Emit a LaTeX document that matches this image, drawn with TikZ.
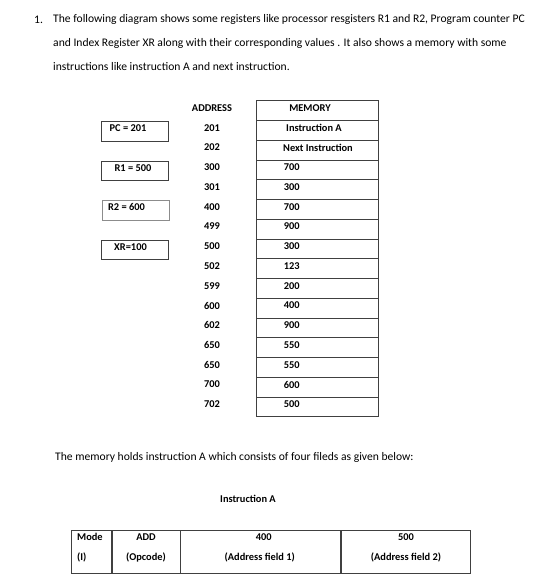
\documentclass[tikz,border=0pt]{standalone}
\usepackage{fontspec}
\setmainfont{Carlito}
\usepackage{tikz}
\usetikzlibrary{positioning,calc}

\begin{document}
\begin{tikzpicture}[x=1pt,y=-1pt,
  txt/.style={font=\fontsize{11.6}{13}\selectfont, inner sep=0pt},
  bld/.style={font=\fontsize{10.4}{12}\selectfont\bfseries, inner sep=0pt},
  reg/.style={draw=black!75, line width=0.7pt, minimum width=67pt, minimum height=19.5pt, inner sep=0pt},
  cell/.style={draw=black!75, line width=0.7pt, minimum width=122pt, minimum height=19.75pt, inner sep=0pt},
  field/.style={draw=black!75, line width=0.7pt, minimum height=43pt, inner sep=0pt}]
\useasboundingbox (0,0) rectangle (558,586);
\node[txt, anchor=west] (num) at (34,19.5) {1.};
\node[txt, anchor=west] (line1) at (53,19.5) {The following diagram shows some registers like processor resgisters R1 and R2, Program counter PC};
\node[txt, anchor=west] (line2) at (53,43) {and Index Register XR along with their corresponding values . It also shows a memory with some};
\node[txt, anchor=west] (line3) at (53,66.5) {instructions like instruction A and next instruction.};

\foreach \i in {0,...,15}
  \node[cell] (m\i) at (317,{110.5+19.75*\i}) {};
\node[bld] (mhead) at ($(m0)+(-7,-2.5)$) {MEMORY};
\node[bld] (minsa) at ($(m1)+(-3,-2.5)$) {Instruction A};
\node[bld] (mnext) at ($(m2)+(1,-2.5)$) {Next Instruction};
\foreach \v [count=\i from 3] in {700,300,700,900,300,123,200,400,900,550,550,600,500}
  \node[bld, anchor=west] (v\i) at ($(m\i.west)+(28,-2.5)$) {\v};

\node[bld] (ahead) at ($(m0)+(-105,-2.5)$) {ADDRESS};
\foreach \a [count=\i from 1] in {201,202,300,301,400,499,500,502,599,600,602,650,650,700,702}
  \node[bld] (a\i) at ($(m\i)+(-105,-2.5)$) {\a};

\node[reg] (pc) at ($(m1)+(-182,1)$) {};
\node[reg] (r1) at ($(m3)+(-182,1)$) {};
\node[reg, draw=black!45] (r2) at ($(m5)+(-181,1)$) {};
\node[reg] (xr) at ($(m7)+(-182,1)$) {};
\node[bld] (pct) at ($(pc)+(-7,-3)$) {PC = 201};
\node[bld] (r1t) at ($(r1)+(-2,-3)$) {R1 = 500};
\node[bld] (r2t) at ($(r2)+(-9.5,-3)$) {R2 = 600};
\node[bld] (xrt) at ($(xr)+(-4.5,-3)$) {XR=100};

\node[txt, anchor=west] (hold) at (55,457) {The memory holds instruction A which consists of four fileds as given below:};
\node[bld] (itit) at (248,499) {Instruction A};

\node[field, minimum width=40pt, anchor=west] (f1) at (71,551.5) {};
\node[field, minimum width=68pt, right=0pt of f1] (f2) {};
\node[field, minimum width=160pt, right=0pt of f2] (f3) {};
\node[field, minimum width=129pt, right=0pt of f3] (f4) {};
\node[bld, anchor=west] (f1a) at ($(f1.north west)+(6,7)$) {Mode};
\node[bld, anchor=west] (f1b) at ($(f1.north west)+(6,28)$) {(I)};
\node[bld] (f2a) at ($(f2.north)+(0,7)$) {ADD};
\node[bld] (f2b) at ($(f2.north)+(0,28)$) {(Opcode)};
\node[bld] (f3a) at ($(f3.north)+(3,7)$) {400};
\node[bld] (f3b) at ($(f3.north)+(-1,28)$) {(Address field 1)};
\node[bld] (f4a) at ($(f4.north)+(0,7)$) {500};
\node[bld] (f4b) at ($(f4.north)+(0,28)$) {(Address field 2)};
\end{tikzpicture}
\end{document}
